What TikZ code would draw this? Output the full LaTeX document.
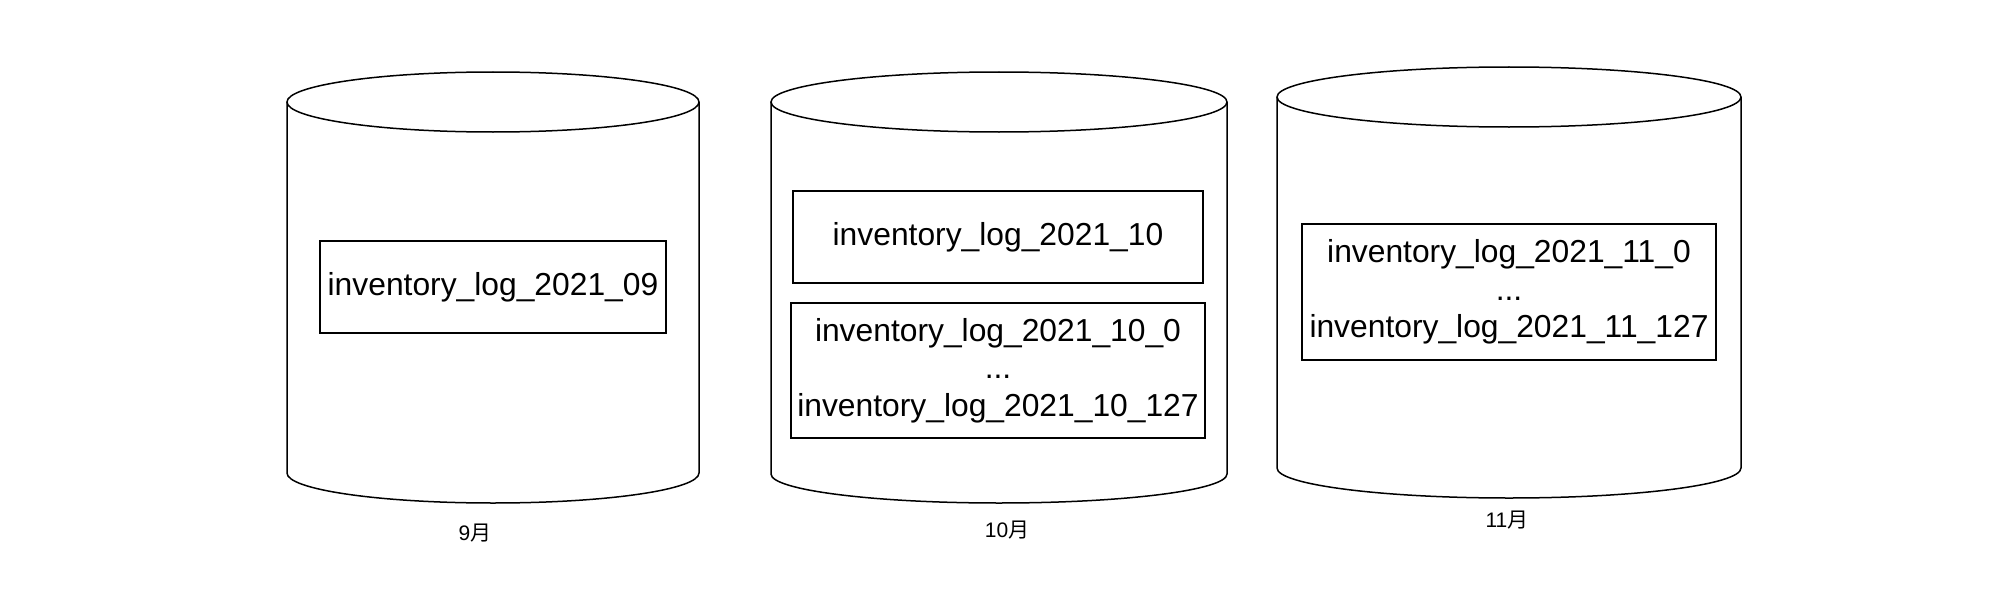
\documentclass[tikz,border=0pt]{standalone}
\usepackage{fontspec}
\setmainfont{Liberation Sans}
\newfontfamily\cjk{Noto Sans CJK SC}
\begin{document}
\begin{tikzpicture}[x=1pt,y=1pt,line width=1.5pt,
  tbox/.style={draw,inner sep=0pt,align=center,font=\fontsize{31.8}{37.5}\selectfont},
  mlabel/.style={inner sep=0pt,font=\fontsize{21}{24}\selectfont}]
\useasboundingbox (0,0) rectangle (1992,-594);
% cylinder 9
\draw (287,-102) -- (287,-473) arc (180:360:206 and 30) -- (699,-102);
\draw (493,-102) ellipse (206 and 30);
% cylinder 10
\draw (771,-102) -- (771,-474) arc (180:360:228 and 29) -- (1227,-102);
\draw (999,-102) ellipse (228 and 30);
% cylinder 11
\draw (1277,-97) -- (1277,-468) arc (180:360:232 and 30) -- (1741,-97);
\draw (1509,-97) ellipse (232 and 30);
% boxes
\node[tbox,minimum width=346pt,minimum height=92pt] (b9) at (493,-287) {inventory\_log\_2021\_09};
\node[tbox,minimum width=410pt,minimum height=92pt] (b10a) at (998,-237) {inventory\_log\_2021\_10};
\node[tbox,minimum width=414pt,minimum height=135pt] (b10b) at (998,-370.5) {inventory\_log\_2021\_10\_0\\...\\inventory\_log\_2021\_10\_127};
\node[tbox,minimum width=414pt,minimum height=136pt] (b11) at (1509,-292) {inventory\_log\_2021\_11\_0\\...\\inventory\_log\_2021\_11\_127};
% labels
\node[mlabel] (l9) at (475,-533) {9{\cjk 月}};
\node[mlabel] (l10) at (1007,-530) {10{\cjk 月}};
\node[mlabel] (l11) at (1507,-520) {11{\cjk 月}};
\end{tikzpicture}
\end{document}
